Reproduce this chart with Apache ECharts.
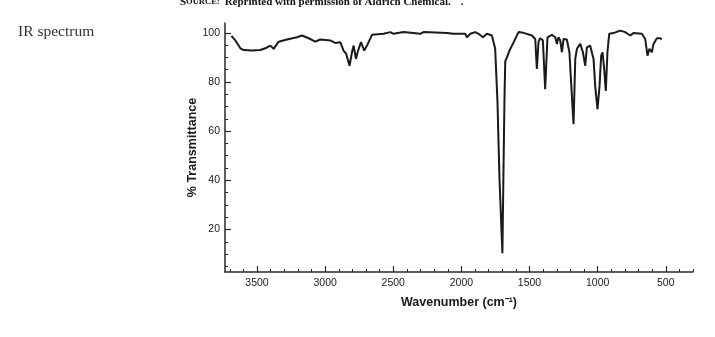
<!DOCTYPE html>
<html>
<head>
<meta charset="utf-8">
<script src="https://cdn.jsdelivr.net/npm/echarts@6/dist/echarts.min.js"></script>
<style>
html,body{margin:0;padding:0;background:#fff;}
#c{width:715px;height:337px;}
</style>
</head>
<body>
<div id="c"></div>
<script>
// Data (wavenumber cm^-1, % transmittance)
const wavenumbers = [3688,3659,3622,3598,3537,3525,3476,3439,3402,3378,3341,3280,3207,3170,3121,3072,3036,2962,2926,2889,2865,2845,2821,2803,2791,2774,2762,2737,2713,2693,2656,2571,2522,2497,2424,2302,2278,2106,2058,2009,1972,1959,1935,1898,1874,1842,1813,1776,1752,1735,1720,1699,1692,1684,1678,1666,1647,1640,1622,1581,1544,1482,1458,1446,1434,1422,1402,1385,1368,1336,1311,1299,1287,1275,1262,1250,1226,1207,1189,1177,1164,1152,1128,1108,1091,1079,1055,1030,1018,1001,986,974,964,952,940,928,915,884,835,798,761,737,675,651,634,620,602,590,565,541,529];
const transmittance = [98.8,96.9,93.7,93.0,92.8,92.1,93.0,93.7,94.8,93.5,96.4,97.3,98.2,98.9,97.8,96.4,97.3,96.9,95.9,96.2,92.8,91.4,86.6,92.1,94.8,89.4,92.1,96.2,92.8,94.8,99.2,99.6,100.3,99.6,100.3,99.6,100.3,99.9,99.6,99.6,99.6,98.2,99.6,100.3,99.6,98.2,99.6,98.9,93.5,71.8,40,10.3,40,72,88.5,90,92.8,92.1,95.5,100.3,100,98.9,97.5,85.3,96.2,97.8,97,77.1,98.2,99.2,98.2,95.5,98.2,97,92.1,97.5,97.3,92.1,74.3,62.8,89.4,93.5,95.5,92.1,86.6,94.1,94.8,89.4,78.4,68.9,78.4,90.7,92.1,85.3,76.4,92.1,99.6,99.9,100.9,100.3,98.9,99.9,99.6,97.5,90.7,93.5,92.1,95.5,97.8,97.8,97.3];
const xMajorTicks = [3500,3000,2500,2000,1500,1000,500];
const xMinorTicks = [3700,3600,3500,3400,3300,3200,3100,3000,2900,2800,2700,2600,2500,2400,2300,2200,2100,2000,1900,1800,1700,1600,1500,1400,1300,1200,1100,1000,900,800,700,600,500,400,300];
const yMajorTicks = [20,40,60,80,100];
const yMinorTicks = [5,10,15,20,25,30,35,40,45,50,55,60,65,70,75,80,85,90,95,100];

const seriesData = wavenumbers.map((w,i)=>[w, transmittance[i]]);
const axisColor = '#2a2a2a';
const chart = echarts.init(document.getElementById('c'), null, {renderer:'canvas'});
const xRange = {min:300, max:3735};
const yRange = {min:2.7, max:104};
chart.setOption({
  animation:false,
  backgroundColor:'#fff',
  title:[
    {text:'IR spectrum', left:18, top:24, padding:0, textStyle:{fontFamily:'Liberation Serif', fontWeight:'normal', fontSize:15.5, color:'#333'}},
    {text:'{a|S}{b|OURCE:} {c|Reprinted with permission of Aldrich Chemical.}  {c|.}', left:180, top:-7, padding:0,
      textStyle:{rich:{
        a:{fontFamily:'Liberation Serif', fontWeight:'bold', fontSize:11, color:'#111'},
        b:{fontFamily:'Liberation Serif', fontWeight:'bold', fontSize:8.5, color:'#111'},
        c:{fontFamily:'Liberation Serif', fontWeight:'bold', fontSize:11, color:'#111'}
      }}}
  ],
  grid:{left:225, right:22, top:23, bottom:65, containLabel:false},
  xAxis:[
    {type:'value', inverse:true, min:xRange.min, max:xRange.max, position:'bottom',
      axisLine:{show:true, onZero:false, lineStyle:{color:axisColor, width:1.5}},
      axisTick:{show:true, inside:true, length:3, customValues:xMinorTicks, lineStyle:{color:axisColor, width:1}},
      axisLabel:{show:false}, splitLine:{show:false},
      name:'Wavenumber (cm⁻¹)', nameLocation:'middle', nameGap:24,
      nameTextStyle:{fontFamily:'Liberation Sans', fontWeight:'bold', fontSize:12.5, color:'#1a1a1a'}},
    {type:'value', inverse:true, min:xRange.min, max:xRange.max, position:'bottom',
      axisLine:{show:false, onZero:false},
      axisTick:{show:true, inside:true, length:6, customValues:xMajorTicks, lineStyle:{color:axisColor, width:1.2}},
      axisLabel:{show:true, customValues:xMajorTicks, margin:6, fontFamily:'Liberation Sans', fontSize:10.5, color:'#1a1a1a',
        formatter:(v)=>String(v)},
      splitLine:{show:false}}
  ],
  yAxis:[
    {type:'value', min:yRange.min, max:yRange.max, position:'left',
      axisLine:{show:true, onZero:false, lineStyle:{color:axisColor, width:1.5}},
      axisTick:{show:true, inside:true, length:3, customValues:yMinorTicks, lineStyle:{color:axisColor, width:1}},
      axisLabel:{show:false}, splitLine:{show:false},
      name:'% Transmittance', nameLocation:'middle', nameGap:26, nameRotate:90,
      nameTextStyle:{fontFamily:'Liberation Sans', fontWeight:'bold', fontSize:12.5, color:'#1a1a1a'}},
    {type:'value', min:yRange.min, max:yRange.max, position:'left',
      axisLine:{show:false, onZero:false},
      axisTick:{show:true, inside:true, length:6, customValues:yMajorTicks, lineStyle:{color:axisColor, width:1.2}},
      axisLabel:{show:true, customValues:yMajorTicks, margin:5, fontFamily:'Liberation Sans', fontSize:10.5, color:'#1a1a1a',
        formatter:(v)=>String(v)},
      splitLine:{show:false}}
  ],
  series:[{
    type:'line', xAxisIndex:0, yAxisIndex:0, data:seriesData, showSymbol:false, symbol:'none',
    lineStyle:{color:'#1a1a1a', width:2}, smooth:false
  }]
});
</script>
</body>
</html>
